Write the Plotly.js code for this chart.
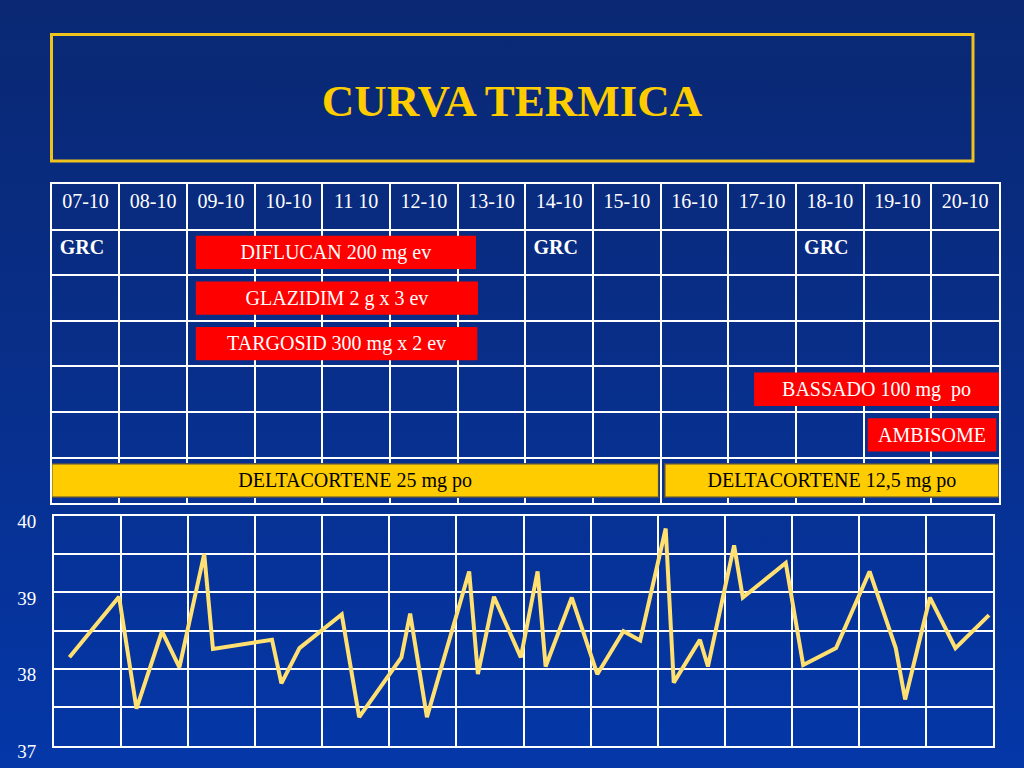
<!DOCTYPE html>
<html>
<head>
<meta charset="utf-8">
<script src="https://cdn.plot.ly/plotly-3.0.1.min.js"></script>
<style>
  html, body { margin: 0; padding: 0; }
  body { width: 1024px; height: 768px; overflow: hidden;
         background: linear-gradient(to bottom, #0a2873 0%, #082e88 45%, #0437a8 100%); }
  #chart { width: 1024px; height: 768px; }
</style>
</head>
<body>
<div id="chart"></div>
<script>
// ---- data ----
const dayLabels = ['07-10','08-10','09-10','10-10','11 10','12-10','13-10','14-10','15-10','16-10','17-10','18-10','19-10','20-10'];
const grcDays = ['07-10','14-10','18-10'];

const drugNames = ['DIFLUCAN 200 mg ev','GLAZIDIM 2 g x 3 ev','TARGOSID 300 mg x 2 ev','BASSADO 100 mg  po','AMBISOME','DELTACORTENE 25 mg po','DELTACORTENE 12,5 mg po'];
const drugStart = [2.13, 2.13, 2.13, 10.38, 12.06, 0.0, 9.06];
const drugEnd   = [6.27, 6.30, 6.29, 14.0, 13.96, 8.97, 14.0];
const drugRow   = [1, 2, 3, 4, 5, 6, 6];

const tempDay = [0.23,0.97,1.23,1.61,1.87,2.24,2.37,3.25,3.39,3.66,4.29,4.55,5.18,5.31,5.56,6.19,6.32,6.56,6.96,7.21,7.33,7.72,8.10,8.49,8.74,9.12,9.24,9.63,9.75,10.14,10.27,10.91,11.17,11.66,12.16,12.55,12.69,13.06,13.44,13.94];
const tempValue = [38.15,38.94,37.48,38.49,38.02,39.50,38.26,38.38,37.81,38.27,38.71,37.37,38.15,38.72,37.37,39.27,37.93,38.94,38.15,39.27,38.03,38.93,37.93,38.49,38.37,39.83,37.82,38.38,38.03,39.61,38.93,39.38,38.05,38.27,39.27,38.27,37.60,38.93,38.27,38.70];

const tempTicks = [37, 38, 39, 40];

// ---- helpers ----
const W = 1024, H = 768;
const px = v => v / W;
const py = v => 1 - v / H;
const SERIF = 'Liberation Serif, Times New Roman, serif';
const isSteroid = n => n.indexOf('DELTACORTENE') === 0;

// ---- traces ----
const headerTrace = {
  type: 'scatter', mode: 'text', xaxis: 'x2', yaxis: 'y2',
  x: dayLabels.map((d, i) => i + 0.5),
  y: dayLabels.map(() => 0.42),
  text: dayLabels,
  textfont: { family: SERIF, size: 20, color: '#ffffff' },
  hoverinfo: 'skip', cliponaxis: false
};

const grcTrace = {
  type: 'scatter', mode: 'text', xaxis: 'x2', yaxis: 'y2',
  x: grcDays.map(d => dayLabels.indexOf(d) + 0.12),
  y: grcDays.map(() => 0.42 + 1),
  text: grcDays.map(() => '<b>GRC</b>'),
  textposition: 'middle right',
  textfont: { family: SERIF, size: 20, color: '#ffffff' },
  hoverinfo: 'skip', cliponaxis: false
};

const drugTrace = {
  type: 'bar', orientation: 'h', xaxis: 'x2', yaxis: 'y2',
  base: drugStart,
  x: drugEnd.map((e, i) => e - drugStart[i]),
  y: drugRow.map(r => r + 0.5),
  width: 0.73,
  text: drugNames,
  textposition: 'inside', insidetextanchor: 'middle', textangle: 0,
  constraintext: 'none',
  textfont: { family: SERIF, size: 20, color: drugNames.map(n => isSteroid(n) ? '#000000' : '#ffffff') },
  marker: {
    color: drugNames.map(n => isSteroid(n) ? '#ffcc00' : '#ff0000'),
    line: { color: drugNames.map(n => isSteroid(n) ? '#4d4d4d' : 'rgba(0,0,0,0)'),
            width: drugNames.map(n => isSteroid(n) ? 1.5 : 0) }
  },
  hoverinfo: 'skip', cliponaxis: false
};

const tempTrace = {
  type: 'scatter', mode: 'lines', xaxis: 'x', yaxis: 'y',
  x: tempDay, y: tempValue,
  line: { color: '#ffe070', width: 4, shape: 'linear' },
  hoverinfo: 'skip', cliponaxis: false
};

// ---- layout ----
const yTickVals = [];
for (let v = tempTicks[0]; v <= tempTicks[tempTicks.length - 1] + 1e-9; v += 0.5) yTickVals.push(+v.toFixed(1));

const layout = {
  width: W, height: H,
  margin: { l: 0, r: 0, t: 0, b: 0, pad: 0 },
  paper_bgcolor: 'rgba(0,0,0,0)',
  plot_bgcolor: 'rgba(0,0,0,0)',
  showlegend: false,
  bargap: 0,
  title: {
    text: '<b>CURVA TERMICA</b>',
    font: { family: SERIF, size: 45, color: '#ffcc00' },
    x: 0.5, xref: 'paper', xanchor: 'center',
    y: py(100), yref: 'paper', yanchor: 'middle'
  },
  shapes: [{
    type: 'rect', xref: 'paper', yref: 'paper',
    x0: px(51.5), x1: px(973), y0: py(161), y1: py(34.5),
    line: { color: '#efc21d', width: 3 }, fillcolor: 'rgba(0,0,0,0)', layer: 'below'
  }],
  // temperature chart
  xaxis: {
    domain: [px(54), px(993)], range: [0, 14],
    tick0: 0, dtick: 1, showticklabels: false, ticks: '',
    showgrid: true, gridcolor: '#ffffff', gridwidth: 2,
    zeroline: false, showline: true, mirror: true, linecolor: '#ffffff', linewidth: 2,
    fixedrange: true
  },
  yaxis: {
    domain: [py(745.5), py(515.5)], range: [37, 40],
    tickmode: 'array', tickvals: yTickVals,
    ticktext: yTickVals.map(v => tempTicks.indexOf(v) >= 0 ? String(v) : ''),
    ticks: '', ticklabelstandoff: 12, ticklabelshift: 6,
    tickfont: { family: SERIF, size: 19, color: '#ffffff' },
    showgrid: true, gridcolor: '#ffffff', gridwidth: 2,
    zeroline: false, showline: true, mirror: true, linecolor: '#ffffff', linewidth: 2,
    fixedrange: true
  },
  // therapy table
  xaxis2: {
    domain: [px(51.7), px(999)], range: [0, 14], anchor: 'y2',
    tick0: 0, dtick: 1, showticklabels: false, ticks: '',
    showgrid: true, gridcolor: '#ffffff', gridwidth: 2,
    zeroline: false, showline: true, mirror: true, linecolor: '#ffffff', linewidth: 2,
    fixedrange: true
  },
  yaxis2: {
    domain: [py(503.3), py(184)], range: [7, 0], anchor: 'x2',
    tick0: 0, dtick: 1, showticklabels: false, ticks: '',
    showgrid: true, gridcolor: '#ffffff', gridwidth: 2,
    zeroline: false, showline: true, mirror: true, linecolor: '#ffffff', linewidth: 2,
    fixedrange: true
  }
};

Plotly.newPlot('chart', [drugTrace, headerTrace, grcTrace, tempTrace], layout, { displayModeBar: false, staticPlot: true });
</script>
</body>
</html>
